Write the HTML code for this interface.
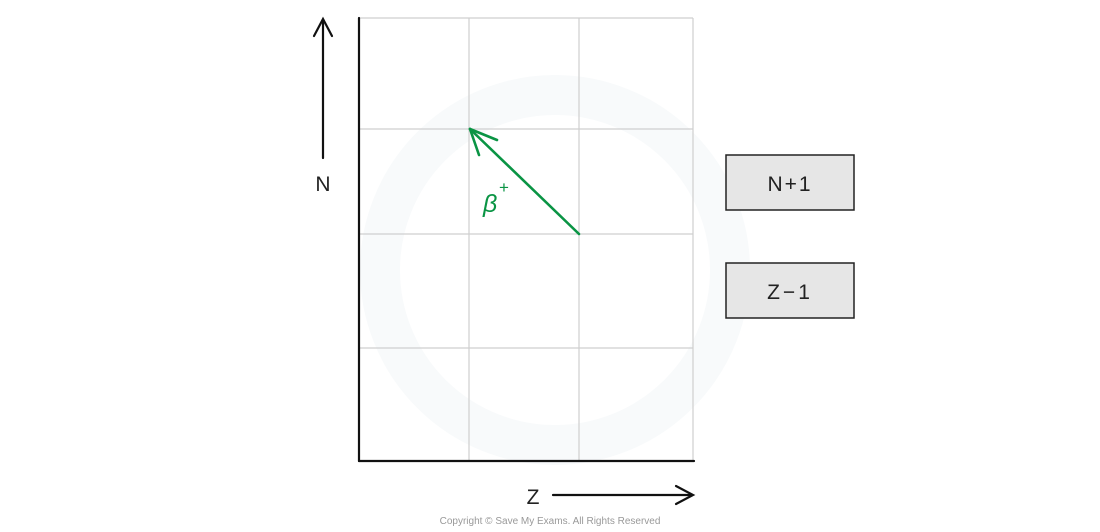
<!DOCTYPE html>
<html><head><meta charset="utf-8"><style>
html,body{margin:0;padding:0;background:#fff;width:1100px;height:532px;overflow:hidden}
</style></head><body>
<svg width="1100" height="532" viewBox="0 0 1100 532" xmlns="http://www.w3.org/2000/svg" font-family="Liberation Sans, sans-serif">
<circle cx="555" cy="270" r="175" fill="none" stroke="#f8fafb" stroke-width="40"/>
<g stroke="#cfcfcf" stroke-width="1.2" fill="none">
<line x1="359" y1="18" x2="693" y2="18"/>
<line x1="359" y1="129" x2="693" y2="129"/>
<line x1="359" y1="234" x2="693" y2="234"/>
<line x1="359" y1="348" x2="693" y2="348"/>
<line x1="469" y1="18" x2="469" y2="461"/>
<line x1="579" y1="18" x2="579" y2="461"/>
<line x1="693" y1="18" x2="693" y2="461"/>
</g>
<g stroke="#111" stroke-width="2.2" fill="none" stroke-linecap="round">
<line x1="359" y1="18" x2="359" y2="461"/>
<line x1="359" y1="461" x2="694" y2="461"/>
<line x1="323" y1="158" x2="323" y2="20"/>
<polyline points="314,36 323,19 332,36"/>
<line x1="553" y1="495" x2="692" y2="495"/>
<polyline points="676,486 693,495 676,504"/>
</g>
<text x="323" y="191" font-size="21" text-anchor="middle" fill="#222">N</text>
<text x="533" y="504" font-size="21" text-anchor="middle" fill="#222">Z</text>
<g stroke="#0a9444" stroke-width="2.6" fill="none" stroke-linecap="round">
<line x1="579" y1="234" x2="470" y2="129"/>
<line x1="470" y1="129" x2="497" y2="140"/>
<line x1="470" y1="129" x2="479" y2="155"/>
</g>
<text x="483" y="212" font-size="25" font-style="italic" fill="#0a9444">β</text>
<text x="499" y="193" font-size="17" fill="#0a9444">+</text>
<rect x="726" y="155" width="128" height="55" fill="#e6e6e6" stroke="#222" stroke-width="1.5"/>
<text x="790" y="191" font-size="21" text-anchor="middle" fill="#222" letter-spacing="2">N+1</text>
<rect x="726" y="263" width="128" height="55" fill="#e6e6e6" stroke="#222" stroke-width="1.5"/>
<text x="790" y="299" font-size="21" text-anchor="middle" fill="#222" letter-spacing="3">Z−1</text>
<text x="550" y="524" font-size="10" text-anchor="middle" fill="#999">Copyright © Save My Exams. All Rights Reserved</text>
</svg>
</body></html>
